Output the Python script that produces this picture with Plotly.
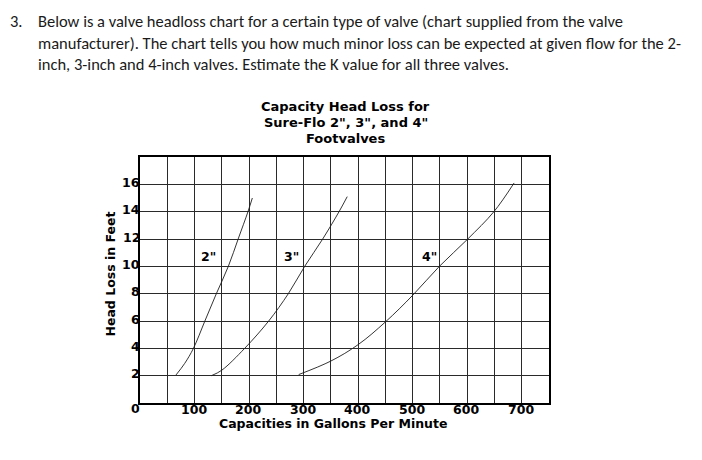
import plotly.graph_objects as go

# ---------------- data ----------------
flow_2in = [66, 82, 98, 119, 140, 162, 180, 198, 206]
loss_2in = [2.05, 2.9, 4.0, 6.0, 8.0, 10.0, 12.0, 14.0, 15.0]

flow_3in = [131, 150, 192, 236, 272, 302, 335, 365, 380]
loss_3in = [2.0, 2.4, 4.0, 6.0, 8.0, 10.0, 12.0, 14.0, 15.1]

flow_4in = [291, 350, 400, 450, 500, 549, 601, 649, 686]
loss_4in = [2.08, 3.07, 4.27, 5.93, 7.88, 10.0, 12.0, 14.0, 16.1]

series_names = ['2"', '3"', '4"']
series_label_x = [125, 277, 531]
series_label_y = [10.7, 10.7, 10.7]

x_tick_values = [100, 200, 300, 400, 500, 600, 700]
x_tick_labels = ["100", "200", "300", "400", "500", "600", "700"]
y_tick_values = [0, 2, 4, 6, 8, 10, 12, 14, 16]
y_tick_labels = ["0", "2", "4", "6", "8", "10", "12", "14", "16"]

title_lines = ["Capacity Head Loss for", 'Sure-Flo 2", 3", and 4"', "Footvalves"]
x_title = "Capacities in Gallons Per Minute"
y_title = "Head Loss in Feet"

question_number = "3."
question_lines = [
    "Below is a valve headloss chart for a certain type of valve (chart supplied from the valve",
    "manufacturer). The chart tells you how much minor loss can be expected at given flow for the 2-",
    "inch, 3-inch and 4-inch valves. Estimate the K value for all three valves.",
]

# ---------------- layout helpers ----------------
W, H = 702, 460
L, R, T, B = 140, 549, 157, 403


def xp(px):
    return (px - L) / (R - L)


def yp(py):
    return (B - py) / (B - T)


CHART_FONT = "DejaVu Sans, Verdana, sans-serif"
DOC_FONT = "Carlito, Calibri, Lato, sans-serif"

fig = go.Figure()
for fx, fy in [(flow_2in, loss_2in), (flow_3in, loss_3in), (flow_4in, loss_4in)]:
    fig.add_trace(go.Scatter(
        x=fx, y=fy, mode="lines",
        line=dict(color="#1e1e1e", width=0.9, shape="spline", smoothing=1.0),
        showlegend=False, hoverinfo="skip",
    ))

ann = []
# curve labels
for name, lx, ly in zip(series_names, series_label_x, series_label_y):
    ann.append(dict(x=lx, y=ly, xref="x", yref="y", text=f"<b>{name}</b>",
                    showarrow=False, font=dict(family=CHART_FONT, size=12.5, color="#000")))
# x tick labels
for v, t in zip(x_tick_values, x_tick_labels):
    ann.append(dict(x=v, y=0, xref="x", yref="paper", text=f"<b>{t}</b>", showarrow=False,
                    xanchor="center", yanchor="top", xshift=-1, yshift=2, borderpad=0,
                    font=dict(family=CHART_FONT, size=12.5, color="#000")))
# y tick labels
for v, t in zip(y_tick_values, y_tick_labels):
    shift = -5 if v == 0 else 2
    ann.append(dict(x=0, y=v, xref="paper", yref="y", text=f"<b>{t}</b>", showarrow=False,
                    xanchor="right", yanchor="middle", xshift=2, yshift=shift,
                    font=dict(family=CHART_FONT, size=12.5, color="#000")))
# axis titles
ann.append(dict(x=xp(333), y=yp(423), xref="paper", yref="paper", text=f"<b>{x_title}</b>",
                showarrow=False, xanchor="center", yanchor="middle", borderpad=0,
                font=dict(family=CHART_FONT, size=12.5, color="#000")))
ann.append(dict(x=xp(110), y=yp(274.5), xref="paper", yref="paper", text=f"<b>{y_title}</b>",
                showarrow=False, xanchor="center", yanchor="middle", textangle=-90,
                font=dict(family=CHART_FONT, size=12.5, color="#000")))
# chart title
for line, cy in zip(title_lines, [106.7, 122.7, 138.3]):
    ann.append(dict(x=xp(345.5), y=yp(cy), xref="paper", yref="paper", text=f"<b>{line}</b>",
                    showarrow=False, xanchor="center", yanchor="middle",
                    font=dict(family=CHART_FONT, size=13, color="#000")))
# question text
ann.append(dict(x=xp(8), y=yp(20.7), xref="paper", yref="paper", text=question_number,
                showarrow=False, xanchor="left", yanchor="middle",
                font=dict(family=DOC_FONT, size=16.5, color="#1a1a1a")))
for line, cy in zip(question_lines, [20.7, 42.7, 64.3]):
    ann.append(dict(x=xp(36), y=yp(cy), xref="paper", yref="paper", text=line,
                    showarrow=False, xanchor="left", yanchor="middle",
                    font=dict(family=DOC_FONT, size=16.5, color="#1a1a1a")))

grid_vals_x = list(range(0, 751, 50))
grid_vals_y = list(range(0, 19, 2))

fig.update_layout(
    width=W, height=H,
    margin=dict(l=L, r=W - R, t=T, b=H - B, pad=0),
    paper_bgcolor="white", plot_bgcolor="white",
    annotations=ann,
    xaxis=dict(range=[0, 750], tickvals=grid_vals_x, showticklabels=False, ticks="",
               showgrid=True, gridcolor="#2a2a2a", gridwidth=1, zeroline=False,
               showline=True, mirror=True, linecolor="#000", linewidth=1.5, fixedrange=True),
    yaxis=dict(range=[0, 18], tickvals=grid_vals_y, showticklabels=False, ticks="",
               showgrid=True, gridcolor="#2a2a2a", gridwidth=1, zeroline=False,
               showline=True, mirror=True, linecolor="#000", linewidth=1.5, fixedrange=True),
)

fig.write_html("out.html")
